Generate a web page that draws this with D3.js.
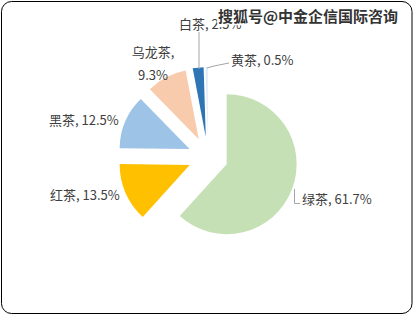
<!DOCTYPE html>
<html>
<head>
<meta charset="utf-8">
<script src="https://cdn.jsdelivr.net/npm/d3@7"></script>
<style>
  body { margin: 0; background: #fff; }
  svg { display: block; }
</style>
</head>
<body>
<div id="plot"></div>
<script>
// data
const categories = ["绿茶", "红茶", "黑茶", "乌龙茶", "白茶", "黄茶"];
const shares = [61.7, 13.5, 12.5, 9.3, 2.5, 0.5];
const colors = ["#C5E0B4", "#FFC000", "#9DC3E6", "#F8CBAD", "#2E75B6", "#DEEBF7"];

const width = 413;
const height = 315;
const cx = 208, cy = 157;   // pie centre
const radius = 70;
const explode = 20;

const data = categories.map((c, i) => ({ name: c, value: shares[i], color: colors[i] }));

const svg = d3.select("#plot").append("svg")
    .attr("width", width)
    .attr("height", height)
    .style("font-family", "'Noto Sans CJK SC', 'Noto Sans', sans-serif");

// chart border
svg.append("rect")
    .attr("x", 1.5).attr("y", 1.5)
    .attr("width", width - 2.5).attr("height", height - 3)
    .attr("rx", 10).attr("ry", 10)
    .attr("fill", "#fff")
    .attr("stroke", "#000")
    .attr("stroke-width", 1);

const pie = d3.pie().sort(null).value(d => d.value).startAngle(0).endAngle(2 * Math.PI);
const arc = d3.arc().innerRadius(0).outerRadius(radius);
const arcs = pie(data);

const g = svg.append("g").attr("transform", `translate(${cx},${cy})`);

g.selectAll("path")
    .data(arcs)
    .enter()
    .append("path")
    .attr("transform", d => {
        const a = (d.startAngle + d.endAngle) / 2;
        return `translate(${explode * Math.sin(a)},${-explode * Math.cos(a)})`;
    })
    .attr("fill", d => d.data.color)
    .attr("d", arc);

// leader lines
const leaders = [
    "M199,32 V69",
    "M207,68 L214,66 L229,63",
    "M294.5,189 V203.5 H300"
];
svg.selectAll("path.leader")
    .data(leaders)
    .enter()
    .append("path")
    .attr("class", "leader")
    .attr("d", d => d)
    .attr("fill", "none")
    .attr("stroke", "#A6A6A6")
    .attr("stroke-width", 1);

// labels
const labelPos = {
    "绿茶": [302, 204, "start"],
    "红茶": [50, 200, "start"],
    "黑茶": [49, 125, "start"],
    "白茶": [179, 29, "start"],
    "黄茶": [231, 65, "start"]
};
const labels = svg.append("g")
    .attr("font-size", "13px")
    .attr("fill", "#404040");

arcs.forEach(d => {
    const name = d.data.name;
    const txt = `${name}, ${d.data.value}%`;
    if (name === "乌龙茶") {
        labels.append("text").attr("x", 153).attr("y", 57)
            .attr("text-anchor", "middle").text(name + ",");
        labels.append("text").attr("x", 153).attr("y", 80)
            .attr("text-anchor", "middle").text(d.data.value + "%");
    } else {
        const p = labelPos[name];
        labels.append("text").attr("x", p[0]).attr("y", p[1])
            .attr("text-anchor", p[2]).text(txt);
    }
});

// watermark
svg.append("text")
    .attr("x", 398).attr("y", 22)
    .attr("text-anchor", "end")
    .attr("font-size", "15px")
    .attr("font-weight", "bold")
    .attr("fill", "#333")
    .attr("stroke", "#fff")
    .attr("stroke-width", 3)
    .attr("paint-order", "stroke")
    .text("搜狐号@中金企信国际咨询");
</script>
</body>
</html>
